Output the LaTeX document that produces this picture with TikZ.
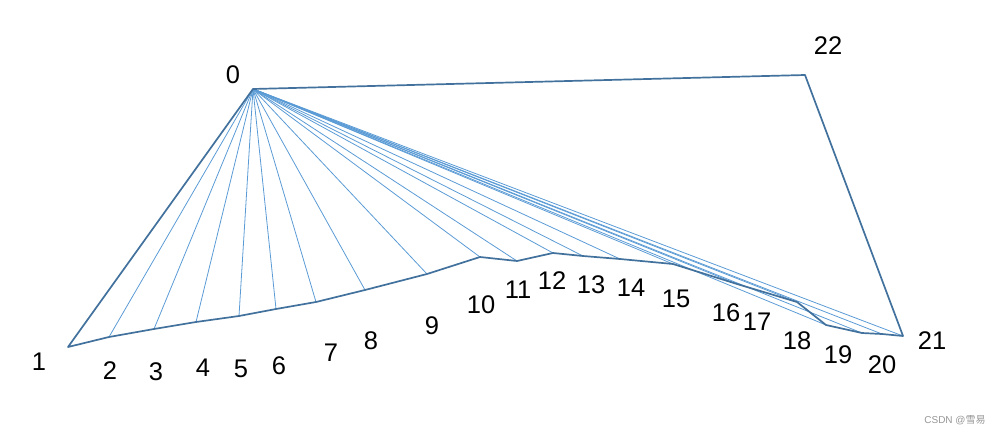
\documentclass[tikz,border=0pt]{standalone}
\usepackage{fontspec}
\setmainfont{Liberation Sans}
\newfontfamily\cjk{Noto Sans CJK SC}
\definecolor{edgeblue}{RGB}{65,113,156}
\definecolor{fanblue}{RGB}{91,155,213}
\definecolor{wmgray}{RGB}{150,150,150}
\begin{document}
\begin{tikzpicture}[x=1pt,y=-1pt,
  outline/.style={draw=edgeblue,line width=1.7pt,line join=round},
  fan/.style={draw=fanblue,line width=0.8pt},
  lbl/.style={font=\fontsize{25.5}{29}\selectfont,text=black,inner sep=0pt}]
\useasboundingbox (0,0) rectangle (1003,436);
\coordinate (v0) at (253,89);
\coordinate (v1) at (68,347);
\coordinate (v2) at (109,337);
\coordinate (v3) at (154,329);
\coordinate (v4) at (196,322);
\coordinate (v5) at (239,316);
\coordinate (v6) at (276,309);
\coordinate (v7) at (316,302);
\coordinate (v8) at (365,290);
\coordinate (v9) at (427,274);
\coordinate (v10) at (480,257);
\coordinate (v11) at (517,261);
\coordinate (v12) at (553,253);
\coordinate (v13) at (583,256);
\coordinate (v14) at (620,259);
\coordinate (v15) at (673,264);
\coordinate (v16) at (737,284);
\coordinate (v17) at (797,302);
\coordinate (v18) at (826,325);
\coordinate (v19) at (862,333);
\coordinate (v20) at (882,334);
\coordinate (v21) at (903,336);
\coordinate (v22) at (805,75);
\foreach \i in {2,...,21} \draw[fan] (v0) -- (v\i);
\draw[outline] (v0) -- (v22) -- (v21) -- (v20) -- (v19) -- (v18) -- (v17) -- (v16) -- (v15) -- (v14) -- (v13) -- (v12) -- (v11) -- (v10) -- (v9) -- (v8) -- (v7) -- (v6) -- (v5) -- (v4) -- (v3) -- (v2) -- (v1) -- cycle;
\node[lbl] (l0) at (233,75) {0};
\node[lbl] (l1) at (39,362) {1};
\node[lbl] (l2) at (110,371) {2};
\node[lbl] (l3) at (156,372) {3};
\node[lbl] (l4) at (203,368) {4};
\node[lbl] (l5) at (241,369) {5};
\node[lbl] (l6) at (279,366) {6};
\node[lbl] (l7) at (331,353) {7};
\node[lbl] (l8) at (371,341) {8};
\node[lbl] (l9) at (432,326) {9};
\node[lbl] (l10) at (481,305) {10};
\node[lbl] (l11) at (518,290) {11};
\node[lbl] (l12) at (552,281) {12};
\node[lbl] (l13) at (591,285) {13};
\node[lbl] (l14) at (631,288) {14};
\node[lbl] (l15) at (676,299) {15};
\node[lbl] (l16) at (726,313) {16};
\node[lbl] (l17) at (757,322) {17};
\node[lbl] (l18) at (797,341) {18};
\node[lbl] (l19) at (838,355) {19};
\node[lbl] (l20) at (882,365) {20};
\node[lbl] (l21) at (932,341) {21};
\node[lbl] (l22) at (828,46) {22};
\node[font=\fontsize{10}{12}\selectfont,text=wmgray,inner sep=0pt] (wm) at (955,420) {CSDN @{\cjk 雪易}};
\end{tikzpicture}
\end{document}
